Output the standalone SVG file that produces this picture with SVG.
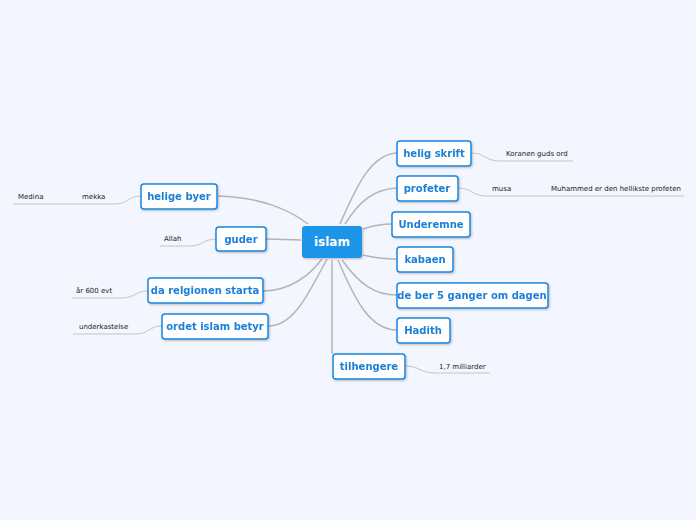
<svg xmlns="http://www.w3.org/2000/svg" width="696" height="520" viewBox="0 0 696 520">
<defs>
<style>
.n rect{fill:#fff;stroke:#1a86e0;stroke-width:1.5}
.n text{font-family:"DejaVu Sans",sans-serif;font-weight:bold;font-size:10px;fill:#1a7fd8;text-anchor:middle}
.c path{fill:none;stroke:#b4b4b8;stroke-width:1.5}
.l path{fill:none;stroke:#c4c4c8;stroke-width:1}
.t{font-family:"DejaVu Sans",sans-serif;font-size:7px;fill:#222}
</style>
<filter id="s"><feDropShadow dx="1" dy="1" stdDeviation="0.8" flood-opacity="0.25"/></filter>
</defs>
<rect width="696" height="520" fill="#f3f6fe"/>
<g class="c">
<path d="M340,224 C355,190 370,154 397,153"/>
<path d="M345,224 C360,200 375,189 397,188"/>
<path d="M363,229 C372,226 380,224 392,224"/>
<path d="M363,255 C375,258 385,259 397,259"/>
<path d="M342,260 C360,285 375,295 397,295"/>
<path d="M338,260 C355,300 370,330 397,330"/>
<path d="M332,260 L332,354"/>
<path d="M218,196 C260,197 290,210 308,224"/>
<path d="M266,239 L301,240"/>
<path d="M263,291 C290,291 310,275 322,259"/>
<path d="M268,326 C295,326 310,290 327,259"/>
</g>
<g class="l">
<path d="M471,153 C485,153 485,161 500,161 L573,161"/>
<path d="M458,188 C472,188 472,196 487,196 L684,196"/>
<path d="M405,366 C420,366 420,373 435,373 L490,373"/>
<path d="M141,196 C128,196 128,204 115,204 L13,204"/>
<path d="M216,239 C203,239 203,246 190,246 L160,246"/>
<path d="M148,291 C135,291 135,298 122,298 L72,298"/>
<path d="M162,326 C149,326 149,334 136,334 L73,334"/>
</g>
<g id="islam"><rect x="302" y="226" width="60" height="32" rx="3" fill="#1b95e8" filter="url(#s)"/><text x="332" y="246" font-family="DejaVu Sans,sans-serif" font-weight="bold" font-size="12" fill="#fff" text-anchor="middle">islam</text></g>
<g class="n" filter="url(#s)">
<g id="helig"><rect x="397" y="141" width="74" height="25" rx="3"/><text x="434" y="157">helig skrift</text></g>
<g id="profeter"><rect x="397" y="176" width="61" height="25" rx="3"/><text x="427" y="192">profeter</text></g>
<g id="underemne"><rect x="392" y="212" width="78" height="25" rx="3"/><text x="431" y="228">Underemne</text></g>
<g id="kabaen"><rect x="397" y="247" width="56" height="25" rx="3"/><text x="425" y="263">kabaen</text></g>
<g id="deber"><rect x="397" y="283" width="151" height="25" rx="3"/><text x="472" y="299">de ber 5 ganger om dagen</text></g>
<g id="hadith"><rect x="397" y="318" width="53" height="25" rx="3"/><text x="423" y="334">Hadith</text></g>
<g id="tilhengere"><rect x="333" y="354" width="72" height="25" rx="3"/><text x="369" y="370">tilhengere</text></g>
<g id="byer"><rect x="141" y="184" width="76" height="25" rx="3"/><text x="179" y="200">helige byer</text></g>
<g id="guder"><rect x="216" y="227" width="50" height="24" rx="3"/><text x="241" y="243">guder</text></g>
<g id="starta"><rect x="148" y="278" width="115" height="25" rx="3"/><text x="205" y="294">da relgionen starta</text></g>
<g id="ordet"><rect x="162" y="314" width="106" height="25" rx="3"/><text x="215" y="330">ordet islam betyr</text></g>
</g>
<g class="t">
<text x="506" y="156">Koranen guds ord</text>
<text x="492" y="191">musa</text>
<text x="551" y="191">Muhammed er den hellikste profeten</text>
<text x="439" y="369">1,7 milliarder</text>
<text x="82" y="199">mekka</text>
<text x="18" y="199">Medina</text>
<text x="164" y="241">Allah</text>
<text x="76" y="293">år 600 evt</text>
<text x="79" y="329">underkastelse</text>
</g>
</svg>
